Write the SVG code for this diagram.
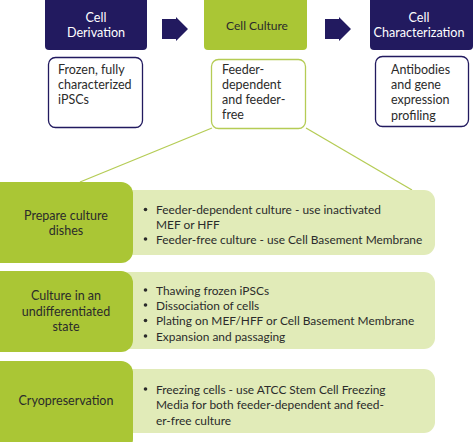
<svg xmlns="http://www.w3.org/2000/svg" width="474" height="442" viewBox="0 0 474 442">
<style>
.navy{fill:#221a5f}
.green{fill:#aac635}
.light{fill:#e1ebb8}
.wt{fill:#fff;font-family:Lato,"Liberation Sans",sans-serif;font-size:12.6px;text-anchor:middle}
.dt{fill:#2b2b2b;font-family:Lato,"Liberation Sans",sans-serif;font-size:12.5px}
.bt{fill:#2b2b2b;font-family:Lato,"Liberation Sans",sans-serif;font-size:11.9px}
.mid{text-anchor:middle}
.bul{fill:#2b2b2b}
.conn{stroke:#b5cc55;stroke-width:1.3;fill:none}
</style>
<rect width="474" height="442" fill="#fff"/>
<g id="connectors">
<path class="navy" d="M162,19H176V17L188,29L176,41V39H162Z"/>
<path class="navy" d="M325,19H339V17L351,29L339,41V39H325Z"/>
<line class="conn" x1="212" y1="128" x2="80" y2="182"/>
<line class="conn" x1="306" y1="128" x2="412" y2="190"/>
</g>
<g id="cell-derivation">
<rect class="navy" x="45" y="-5" width="102" height="55" rx="4"/>
<text class="wt" x="96" y="22">Cell</text>
<text class="wt" x="96" y="37">Derivation</text>
</g>
<g id="cell-culture">
<rect class="green" x="204" y="-5" width="103" height="55" rx="4"/>
<text class="dt mid" x="257" y="30" style="font-size:12px">Cell Culture</text>
</g>
<g id="cell-characterization">
<rect class="navy" x="370" y="-5" width="103" height="55" rx="4"/>
<text class="wt" x="419" y="22">Cell</text>
<text class="wt" x="419" y="37">Characterization</text>
</g>
<g id="frozen">
<rect x="48.5" y="57.5" width="94" height="70" rx="7" fill="#fff" stroke="#221a5f" stroke-width="1.3"/>
<text class="dt" x="58" y="74">Frozen, fully</text>
<text class="dt" x="58" y="89">characterized</text>
<text class="dt" x="58" y="104">iPSCs</text>
</g>
<g id="feeder">
<rect x="211.5" y="59.5" width="94" height="69" rx="7" fill="#fff" stroke="#b5cc55" stroke-width="1.3"/>
<text class="dt" x="222" y="74">Feeder-</text>
<text class="dt" x="222" y="89">dependent</text>
<text class="dt" x="222" y="104">and feeder-</text>
<text class="dt" x="222" y="119">free</text>
</g>
<g id="antibodies">
<rect x="375.5" y="56.5" width="93" height="70" rx="7" fill="#fff" stroke="#221a5f" stroke-width="1.3"/>
<text class="dt" x="391" y="74">Antibodies</text>
<text class="dt" x="391" y="89">and gene</text>
<text class="dt" x="391" y="104">expression</text>
<text class="dt" x="391" y="120">profiling</text>
</g>
<g id="prepare">
<rect class="light" x="118" y="190" width="317" height="65" rx="11"/>
<rect class="green" x="-12" y="182" width="145" height="81" rx="12"/>
<text class="dt mid" x="66" y="220">Prepare culture</text>
<text class="dt mid" x="66" y="235">dishes</text>
<circle class="bul" cx="145.5" cy="209.5" r="1.8"/>
<text class="bt" x="156" y="214">Feeder-dependent culture - use inactivated</text>
<text class="bt" x="156" y="229">MEF or HFF</text>
<circle class="bul" cx="145.5" cy="239" r="1.8"/>
<text class="bt" x="156" y="243.5">Feeder-free culture - use Cell Basement Membrane</text>
</g>
<g id="culture">
<rect class="light" x="118" y="272" width="317" height="77" rx="11"/>
<rect class="green" x="-12" y="271" width="145" height="81" rx="12"/>
<text class="dt mid" x="66" y="300">Culture in an</text>
<text class="dt mid" x="66" y="316">undifferentiated</text>
<text class="dt mid" x="66" y="331">state</text>
<circle class="bul" cx="145.5" cy="290" r="1.8"/>
<text class="bt" x="156" y="294.5">Thawing frozen iPSCs</text>
<circle class="bul" cx="145.5" cy="305" r="1.8"/>
<text class="bt" x="156" y="309.5">Dissociation of cells</text>
<circle class="bul" cx="145.5" cy="320.5" r="1.8"/>
<text class="bt" x="156" y="325">Plating on MEF/HFF or Cell Basement Membrane</text>
<circle class="bul" cx="145.5" cy="336" r="1.8"/>
<text class="bt" x="156" y="340.5">Expansion and passaging</text>
</g>
<g id="cryo">
<rect class="light" x="118" y="369" width="317" height="64" rx="11"/>
<rect class="green" x="-12" y="361" width="145" height="90" rx="12"/>
<text class="dt mid" x="66" y="405">Cryopreservation</text>
<circle class="bul" cx="145.5" cy="389" r="1.8"/>
<text class="bt" x="156" y="393.5">Freezing cells - use ATCC Stem Cell Freezing</text>
<text class="bt" x="156" y="409">Media for both feeder-dependent and feed-</text>
<text class="bt" x="156" y="424.5">er-free culture</text>
</g>
</svg>
